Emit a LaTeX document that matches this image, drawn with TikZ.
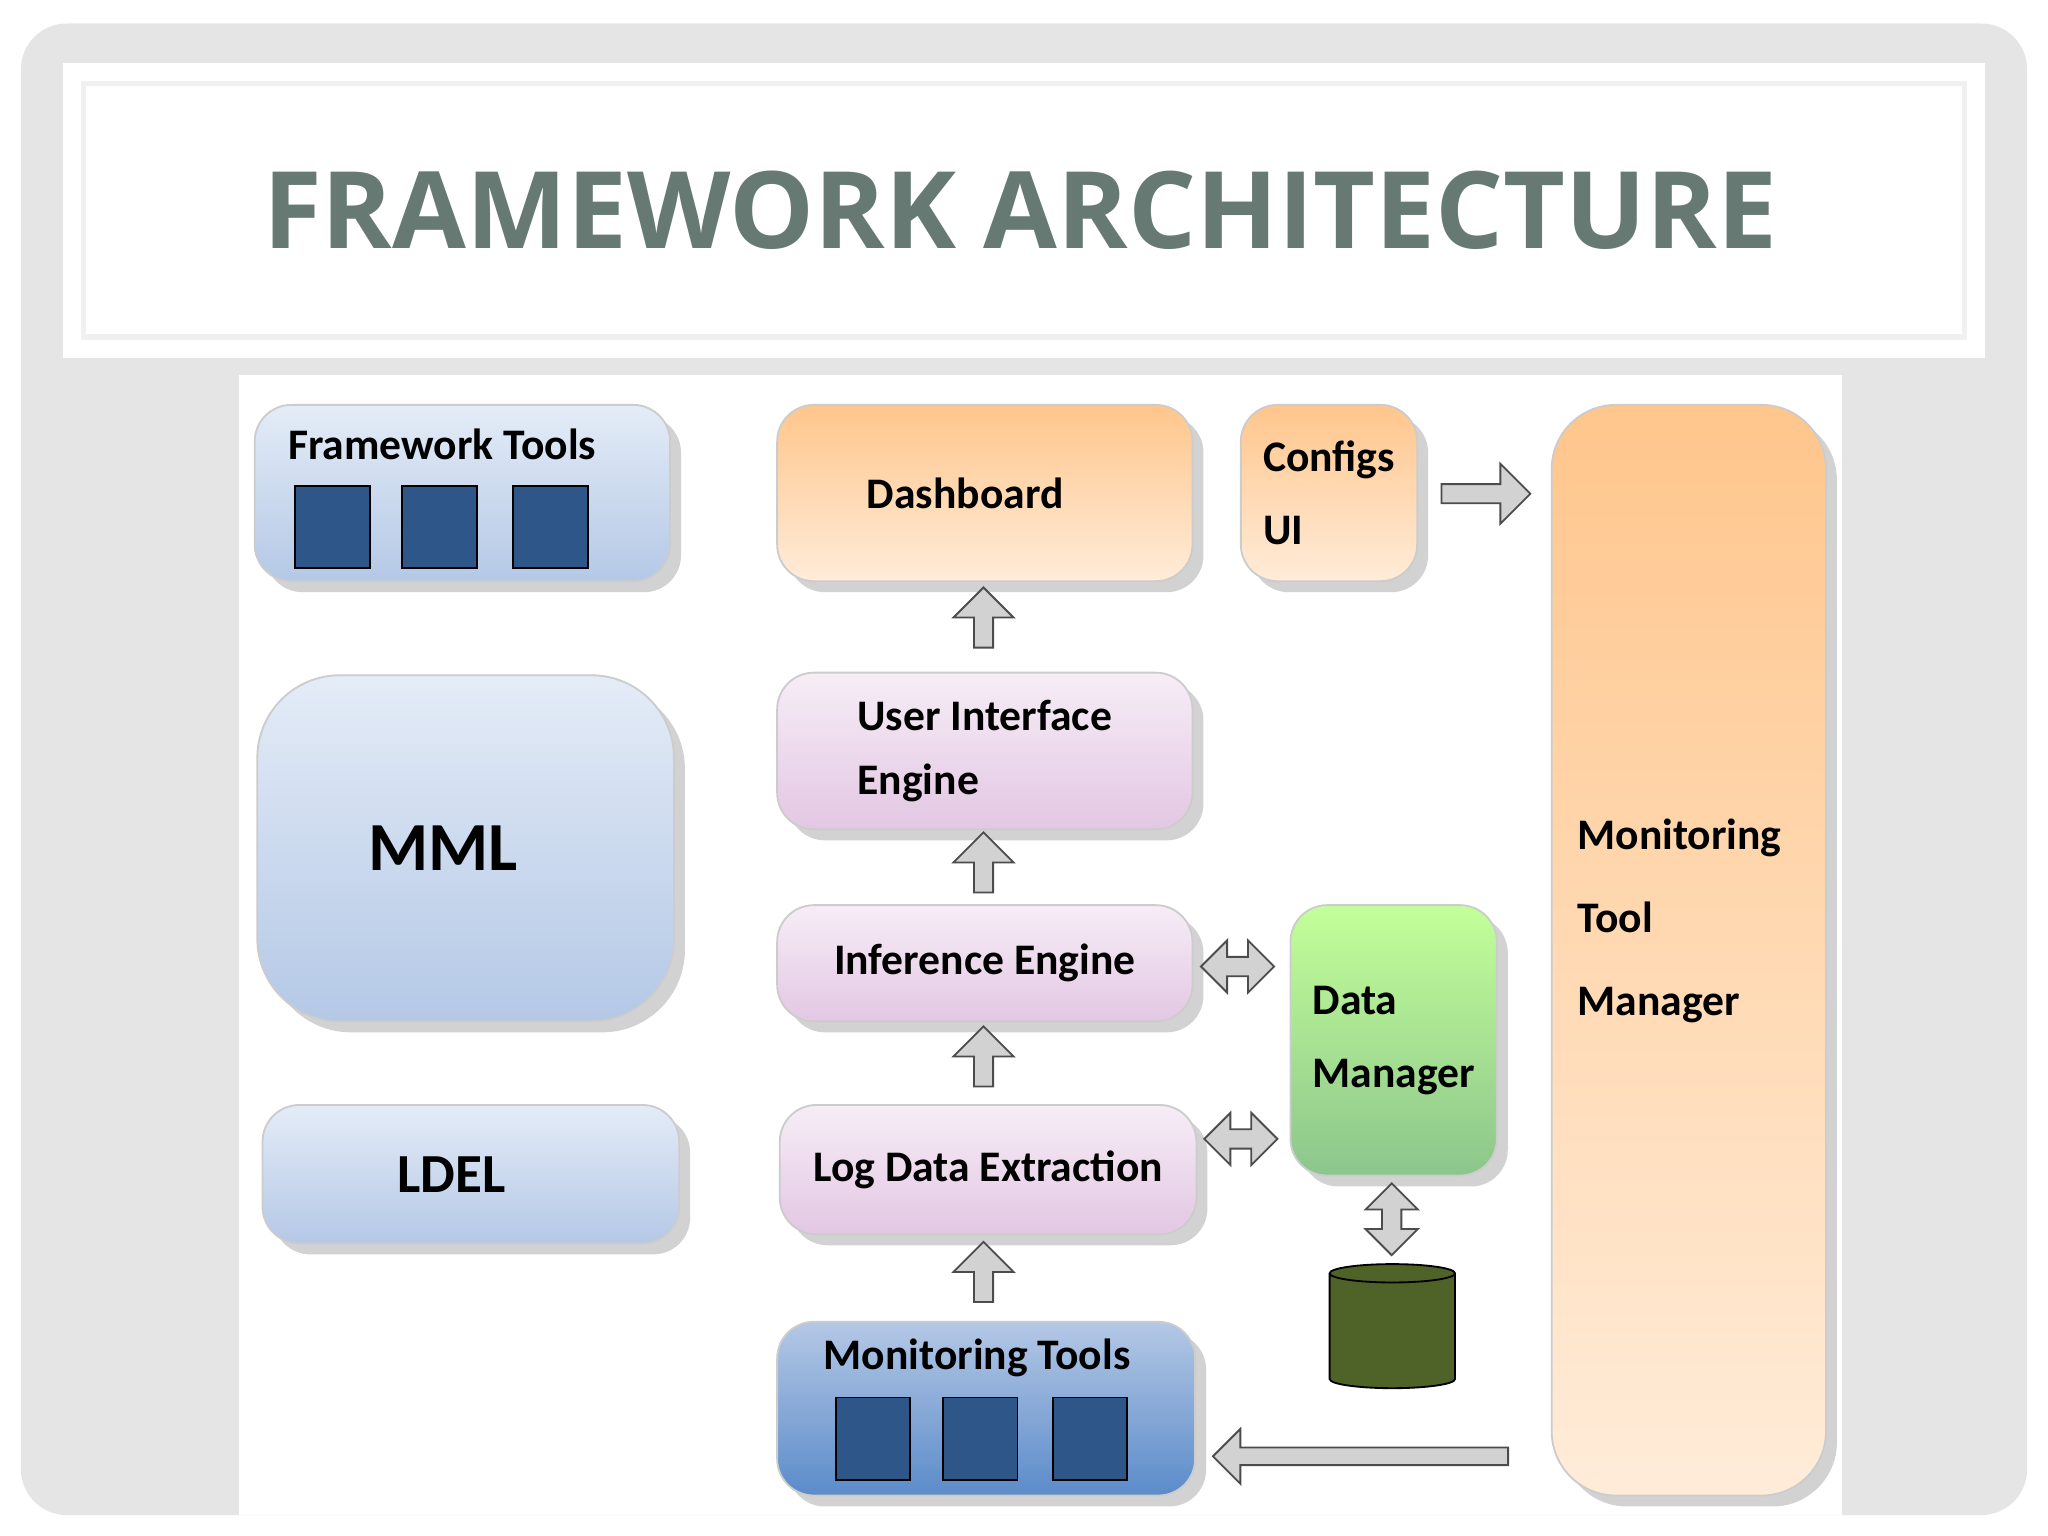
\documentclass[tikz,border=0pt]{standalone}
\usepackage{fontspec}
\setmainfont{Carlito}
\newfontfamily\titlefont{Open Sans}
\usetikzlibrary{positioning,shapes.arrows,shapes.geometric,shadows}
\definecolor{titlegray}{HTML}{667A73}
\definecolor{squareblue}{HTML}{2F5689}
\definecolor{barrelgreen}{HTML}{4F6228}
\definecolor{bluelight}{HTML}{E4ECF7}
\definecolor{bluemid}{HTML}{B4C8E6}
\definecolor{bluedark}{HTML}{5B8BC9}
\tikzset{
  lbl/.style={font=\bfseries\fontsize{9.5}{11}\selectfont, inner sep=0pt},
  box/.style={lbl, rounded corners=8pt, draw=gray!40, drop shadow={opacity=0.35}},
  bluebox/.style={box, top color=bluelight, bottom color=bluemid},
  darkblue/.style={box, top color=bluemid, bottom color=bluedark},
  orangebox/.style={box, top color=orange!45, bottom color=orange!15},
  purplebox/.style={box, top color=violet!7, bottom color=violet!22},
  greenbox/.style={box, top color=green!45!lime!40, bottom color=green!50!black!45},
  sq/.style={draw=black, fill=squareblue, minimum width=0.57cm, minimum height=0.63cm, inner sep=0pt},
  blockarrow/.style={single arrow, draw=gray!60!black, fill=gray!35, single arrow head extend=0.1cm,
    minimum height=0.46cm, minimum width=0.46cm, inner sep=0.04cm},
  dblarrow/.style={double arrow, draw=gray!60!black, fill=gray!35, double arrow head extend=0.08cm,
    minimum width=0.4cm, inner sep=0.04cm}
}
\begin{document}
\begin{tikzpicture}
\useasboundingbox (0,0) rectangle (15.68,-11.76);
% slide background
\fill[white] (0,0) rectangle (15.68,-11.76);
\fill[gray!20, rounded corners=10pt] (0.16,-0.18) rectangle (15.52,-11.60);
\fill[white] (0.48,-0.48) rectangle (15.20,-2.74);
\draw[gray!12, line width=1.2pt] (0.64,-0.64) rectangle (15.04,-2.58);
\node[font=\titlefont\bfseries\fontsize{23.3}{26}\selectfont, text=titlegray] (title) at (7.81,-1.61) {FRAMEWORK ARCHITECTURE};
\fill[white] (1.83,-2.87) rectangle (14.10,-11.60);

% left column
\node[bluebox, minimum width=3.18cm, minimum height=1.35cm] (ftools) at (3.54,-3.775) {};
\node[lbl, anchor=west] (ftlabel) at (2.20,-3.40) {Framework Tools};
\node[sq] (fts1) at (2.545,-4.035) {};
\node[sq] (fts2) at (3.365,-4.035) {};
\node[sq] (fts3) at (4.215,-4.035) {};
\node[bluebox, minimum width=3.19cm, minimum height=2.65cm, rounded corners=18pt,
  font=\bfseries\fontsize{15}{18}\selectfont] (mml) at (3.565,-6.495) {\hspace*{-0.35cm}MML};
\node[bluebox, minimum width=3.19cm, minimum height=1.06cm,
  font=\bfseries\fontsize{12}{15}\selectfont] (ldel) at (3.605,-8.99) {\hspace*{-0.3cm}LDEL};

% centre column
\node[orangebox, minimum width=3.18cm, minimum height=1.35cm] (dash) at (7.54,-3.775) {\hspace*{-0.3cm}Dashboard};
\node[purplebox, minimum width=3.18cm, minimum height=1.20cm, align=left] (uie) at (7.54,-5.75) {User Interface\\[3pt]Engine};
\node[purplebox, minimum width=3.18cm, minimum height=0.89cm] (inf) at (7.54,-7.375) {Inference Engine};
\node[purplebox, minimum width=3.19cm, minimum height=0.99cm] (lde) at (7.565,-8.955) {Log Data Extraction};
\node[darkblue, minimum width=3.20cm, minimum height=1.33cm] (mtools) at (7.55,-10.785) {};
\node[lbl] (mtlabel) at (7.48,-10.40) {Monitoring Tools};
\node[sq] (mts1) at (6.685,-11.015) {};
\node[sq] (mts2) at (7.505,-11.015) {};
\node[sq] (mts3) at (8.345,-11.015) {};

% right part
\node[orangebox, minimum width=1.35cm, minimum height=1.35cm, align=left] (cfg) at (10.175,-3.775) {Configs\\[5pt]UI};
\node[greenbox, minimum width=1.58cm, minimum height=2.07cm, align=left] (dm) at (10.67,-7.965) {Data\\[5pt]Manager};
\node[cylinder, shape border rotate=90, aspect=0.6, draw=black, fill=barrelgreen,
  minimum width=0.96cm, minimum height=0.95cm] (db) at (10.66,-10.215) {};
\node[orangebox, rounded corners=14pt, minimum width=2.10cm, minimum height=8.35cm] (mtm) at (12.93,-7.275) {};
\node[lbl, anchor=west, align=left] (mtmlabel) at (12.07,-7.05) {Monitoring\\[7pt]Tool\\[7pt]Manager};

% connectors
\node[blockarrow, rotate=90] (a1) at (7.53,-4.765) {};
\node[blockarrow, rotate=90] (a2) at (7.53,-6.64) {};
\node[blockarrow, rotate=90] (a3) at (7.53,-8.125) {};
\node[blockarrow, rotate=90] (a4) at (7.53,-9.775) {};
\node[blockarrow, minimum height=0.68cm] (a5) at (11.34,-3.78) {};
\node[dblarrow, minimum height=0.56cm] (d1) at (9.475,-7.40) {};
\node[dblarrow, minimum height=0.56cm] (d2) at (9.50,-8.72) {};
\node[dblarrow, rotate=90, minimum height=0.55cm] (d3) at (10.655,-9.335) {};
\node[blockarrow, rotate=180, minimum height=2.26cm, minimum width=0.42cm] (a6) at (10.45,-11.15) {};
\end{tikzpicture}
\end{document}
